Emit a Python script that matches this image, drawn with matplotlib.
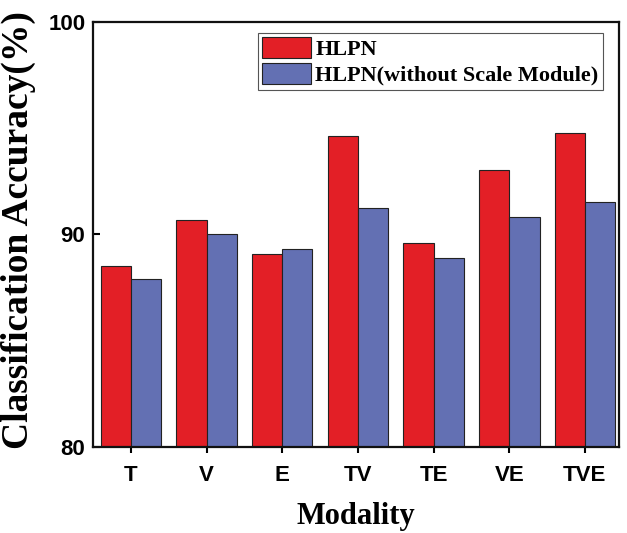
import matplotlib
matplotlib.use('Agg')
import matplotlib.pyplot as plt
import numpy as np

# 数据
modalities = ['T', 'V', 'E', 'TV', 'TE', 'VE', 'TVE']
hlpn = [88.50, 90.68, 89.08, 94.64, 89.59, 93.04, 94.79]
hlpn_no_scale = [87.90, 90.00, 89.30, 91.22, 88.89, 90.82, 91.52]
series_names = ['HLPN', 'HLPN(without Scale Module)']
y_ticks = [80, 90, 100]

RED = '#E31F26'
BLUE = '#6370B3'

fig = plt.figure(figsize=(6.27, 5.33), dpi=100)
ax = fig.add_axes([0.1483, 0.1619, 0.8389, 0.7968])

x = np.arange(len(modalities))
width = 0.4
ax.bar(x - width / 2, hlpn, width, color=RED, edgecolor='#222222', linewidth=0.8,
       label=series_names[0])
ax.bar(x + width / 2, hlpn_no_scale, width, color=BLUE, edgecolor='#222222', linewidth=0.8,
       label=series_names[1])

ax.set_ylim(80, 100)
ax.set_xlim(-0.5, 6.45)
ax.set_yticks(y_ticks)
ax.set_xticks(x)
ax.set_xticklabels(modalities)

# 刻度字体
for lbl in ax.get_xticklabels() + ax.get_yticklabels():
    lbl.set_fontfamily('Liberation Sans')
    lbl.set_fontweight('bold')
    lbl.set_fontsize(16)

ax.tick_params(axis='y', direction='in', length=5, width=1.5, pad=5.5)
ax.tick_params(axis='x', direction='out', length=4.5, width=1.5, pad=9)

for s in ax.spines.values():
    s.set_linewidth(1.6)
    s.set_color('#111111')

label_font = {'family': 'Liberation Serif', 'weight': 'bold'}
ax.set_xlabel('Modality', fontsize=22, labelpad=11, **label_font)
ax.set_ylabel('Classification Accuracy(%)', fontsize=27, **label_font)
ax.yaxis.set_label_coords(-0.108, 0.51)

leg = ax.legend(loc='upper right', bbox_to_anchor=(0.9696, 0.974), borderaxespad=0,
                prop={'family': 'Liberation Serif', 'weight': 'bold', 'size': 16},
                handlelength=2.2, handleheight=1.05, handletextpad=0.2,
                labelspacing=0.12, borderpad=0.2, fancybox=False, framealpha=1)
leg.get_frame().set_edgecolor('#555555')
leg.get_frame().set_linewidth(0.8)

fig.savefig('out.png', dpi=100)
